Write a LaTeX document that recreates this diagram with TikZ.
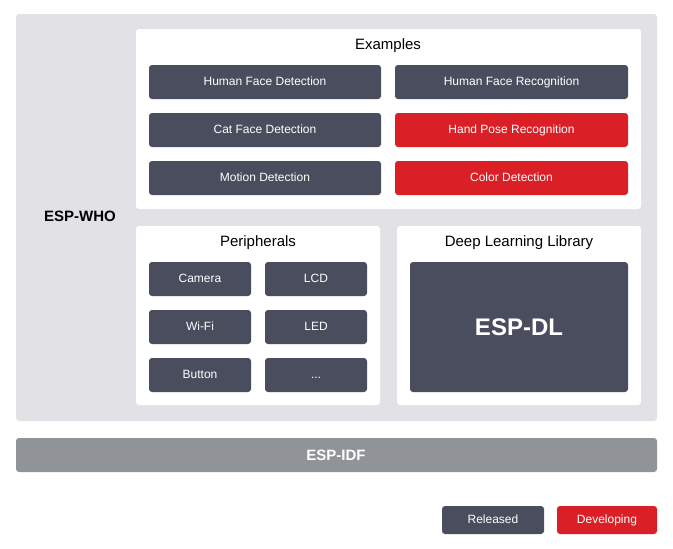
\documentclass[tikz,border=0pt]{standalone}
\usepackage{fontspec}
\setmainfont{Liberation Sans}
\definecolor{dk}{HTML}{4A4D5E}
\definecolor{rd}{HTML}{DA1F26}
\definecolor{bg}{HTML}{E2E2E6}
\definecolor{idf}{HTML}{909498}
\begin{document}
\begin{tikzpicture}[x=1pt,y=-1pt,
 box/.style={fill=white,rounded corners=3pt},
 lbl/.style={text=white,font=\fontsize{12}{14}\selectfont,text height=8.6pt,text depth=2.4pt},
 tit/.style={font=\fontsize{15}{18}\selectfont}]
\useasboundingbox (0,0) rectangle (673,549);
\fill[bg,rounded corners=3pt] (16,14) rectangle (657,421);
\node[font=\bfseries\fontsize{15}{18}\selectfont] (who) at (80,216) {ESP-WHO};
\fill[box] (136,29) rectangle (641,209);
\node[tit] (ex) at (388,46) {Examples};
\newcommand\btnat[6]{\fill[#6,rounded corners=3pt] (#1,#2) rectangle (#3,#4);
 \node[lbl] at ({(#1+#3)/2},{(#2+#4)/2}) {#5};}
\btnat{149}{65}{381}{99}{Human Face Detection}{dk}
\btnat{395}{65}{628}{99}{Human Face Recognition}{dk}
\btnat{149}{113}{381}{147}{Cat Face Detection}{dk}
\btnat{395}{113}{628}{147}{Hand Pose Recognition}{rd}
\btnat{149}{161}{381}{195}{Motion Detection}{dk}
\btnat{395}{161}{628}{195}{Color Detection}{rd}
\fill[box] (136,226) rectangle (380,405);
\node[tit] (per) at (258,243) {Peripherals};
\btnat{149}{262}{251}{296}{Camera}{dk}
\btnat{265}{262}{367}{296}{LCD}{dk}
\btnat{149}{310}{251}{344}{Wi-Fi}{dk}
\btnat{265}{310}{367}{344}{LED}{dk}
\btnat{149}{358}{251}{392}{Button}{dk}
\btnat{265}{358}{367}{392}{...}{dk}
\fill[box] (397,226) rectangle (641,405);
\node[tit] (dl) at (519,243) {Deep Learning Library};
\fill[dk,rounded corners=3pt] (410,262) rectangle (628,392);
\node[text=white,font=\bfseries\fontsize{24}{28}\selectfont] (espdl) at (519,327) {ESP-DL};
\fill[idf,rounded corners=3pt] (16,438) rectangle (657,472);
\node[text=white,font=\bfseries\fontsize{15}{18}\selectfont] (idfn) at (336,455) {ESP-IDF};
\btnat{442}{506}{544}{534}{Released}{dk}
\btnat{557}{506}{657}{534}{Developing}{rd}
\end{tikzpicture}
\end{document}
